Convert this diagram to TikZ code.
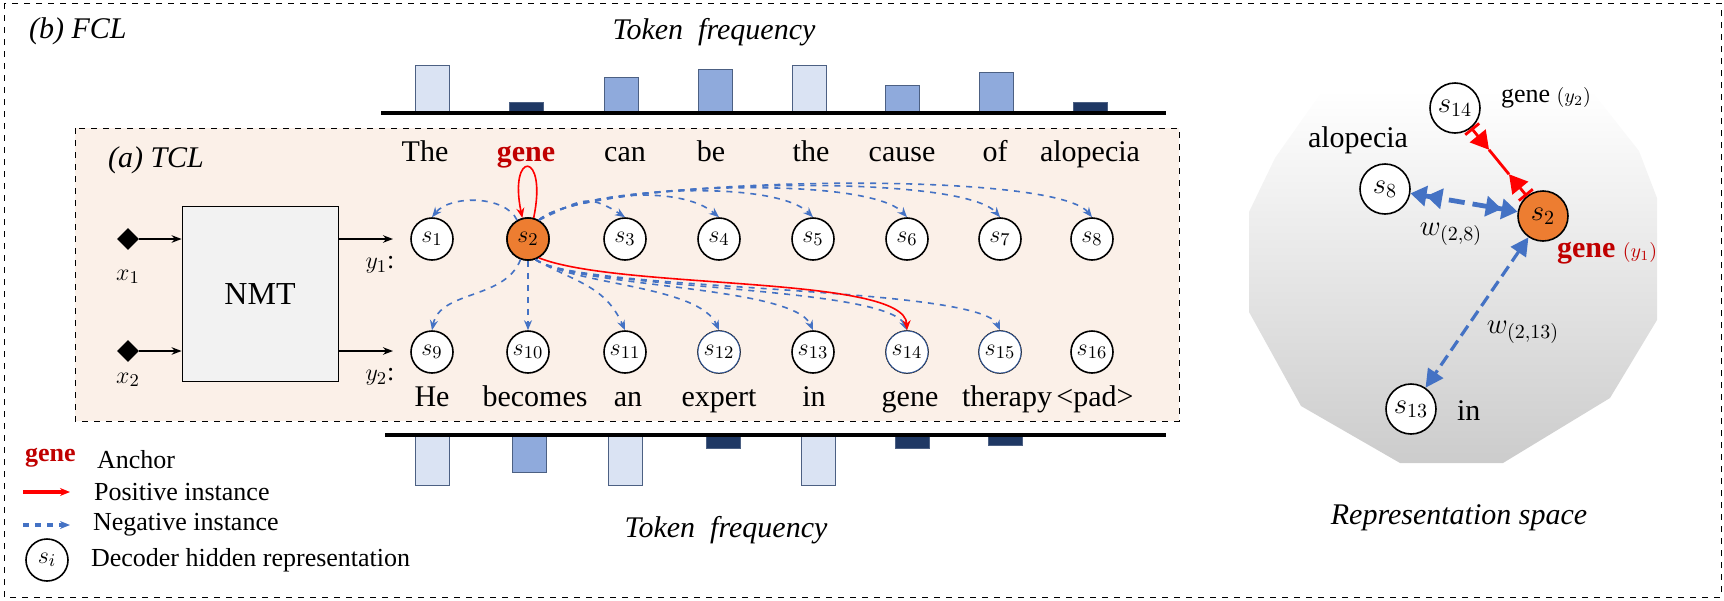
\documentclass[tikz,border=0pt]{standalone}
\usepackage{fontspec}
\setmainfont{Liberation Serif}
\usetikzlibrary{arrows.meta,shapes.geometric,calc}
\definecolor{lb}{HTML}{DAE3F3}
\definecolor{mb}{HTML}{8FAADC}
\definecolor{db}{HTML}{1F3864}
\definecolor{bl}{HTML}{4472C4}
\definecolor{org}{HTML}{ED7D31}
\definecolor{anc}{HTML}{C00000}
\definecolor{tclbg}{HTML}{FBF0E8}
\begin{document}
\begin{tikzpicture}[x=0.5pt,y=-0.5pt,
  tok/.style={circle,draw,thick,fill=white,minimum size=21pt,inner sep=0pt,font=\fontsize{13}{13}\selectfont},
  rtok/.style={tok,minimum size=25pt,font=\fontsize{14}{14}\selectfont},
  word/.style={font=\fontsize{15}{17}\selectfont,anchor=base},
  lgd/.style={anchor=west,font=\fontsize{13}{15}\selectfont},
  negi/.style={draw=bl,thick,dashed,-{Stealth[length=5pt,width=4pt]}},
  posi/.style={draw=red,thick,-{Stealth[length=5pt,width=4pt]}},
  bar/.style={draw=db!80,line width=0.4pt},
  ital/.style={font=\itshape\fontsize{15}{17}\selectfont}]
\useasboundingbox (0,0) rectangle (1724,600);
\draw[dashed] (4,3) rectangle (1721,597);
\node[ital,anchor=west] (bfcl) at (22,31) {(b) FCL};
\node[ital] (tf1) at (714,32) {Token\ \ frequency};
\node[ital] (tf2) at (726,530) {Token\ \ frequency};
% top bars
\foreach \x/\t/\c in {432/65/lb,526/102/db,621/77/mb,715/69/mb,809/65/lb,902/85/mb,996/72/mb,1090/102/db}
  \fill[\c,bar] (\x-17,113) rectangle (\x+17,\t);
\draw[line width=1.8pt] (381,113) -- (1166,113);
% bottom bars
\foreach \x/\t/\c in {432/485/lb,529/472/mb,625/485/lb,723/448/db,818/485/lb,912/448/db,1005/445/db}
  \fill[\c,bar] (\x-17,435) rectangle (\x+17,\t);
\draw[line width=1.8pt] (385,435) -- (1166,435);
% TCL box
\draw[dashed,fill=tclbg] (75,128) rectangle (1179,421);
\node[ital] (atcl) at (156,160) {(a) TCL};
% words
\foreach \x/\w [count=\i] in {425/The,625/can,711/be,811/the,902/cause,995/of,1090/alopecia}
  \node[word] (tw\i) at (\x,161) {\w};
\node[word,text=anc,font=\bfseries\fontsize{15}{17}\selectfont] (gene) at (526,161) {gene};
\foreach \x/\w [count=\i] in {432/He,535/becomes,628/an,719/expert,814/in,910/gene,1007/therapy,1095/<pad>}
  \node[word] (bw\i) at (\x,406) {\w};
% nodes
\foreach \x [count=\i] in {432,528,625,719,813,907,1000,1092}
  \node[tok] (s\i) at (\x,239) {$s_{\i}$};
\node[tok,fill=org] at (s2) {$s_{2}$};
\foreach \x [count=\i from 9] in {432,528,625,719,813,907,1000,1092}
  \node[tok] (s\i) at (\x,352) {$s_{\i}$};
\foreach \i in {12,14,15} \node[tok,draw=bl!80!black,thin] at (s\i) {$s_{\i}$};
% NMT
\node[draw,fill=black!5,minimum width=78pt,minimum height=87.5pt,font=\fontsize{16}{18}\selectfont] (nmt) at (260,294) {NMT};
\node[diamond,fill=black,inner sep=0pt,minimum size=11pt] (x1) at (128,239) {};
\node[diamond,fill=black,inner sep=0pt,minimum size=11pt] (x2) at (128,351) {};
\node[font=\fontsize{13}{13}\selectfont] (x1l) at (128,277) {$x_1$};
\node[font=\fontsize{13}{13}\selectfont] (x2l) at (128,380) {$x_2$};
\draw[thick,-{Stealth[length=5pt]}] (x1) -- (x1 -| nmt.west);
\draw[thick,-{Stealth[length=5pt]}] (x2) -- (x2 -| nmt.west);
\coordinate (y1e) at (393,239);
\coordinate (y2e) at (393,351);
\draw[thick,-{Stealth[length=5pt]}] (y1e -| nmt.east) -- (y1e);
\draw[thick,-{Stealth[length=5pt]}] (y2e -| nmt.east) -- (y2e);
\node[font=\fontsize{13}{13}\selectfont] (y1l) at (380,265) {$y_1$:};
\node[font=\fontsize{13}{13}\selectfont] (y2l) at (380,377) {$y_2$:};
% arcs
\draw[posi] (s2.75) .. controls (548,150) and (508,150) .. (s2.105);
\draw[negi] (s2.120) .. controls (505,195) and (450,195) .. (s1.90);
\foreach \i/\cy in {3/192,4/184,5/178,6/174,7/171,8/168}
  \draw[negi] (s2.60) .. controls ($(s2.60)+(40,\cy-210)$) and ($(s\i.90)+(-40,\cy-218)$) .. (s\i.90);
\draw[negi] (s2.250) .. controls (505,300) and (440,290) .. (s9.90);
\draw[negi] (s2.270) -- (s10.90);
\foreach \i/\cy in {11/285,12/288,13/290,14/292,15/294}
  \draw[negi] (s2.290) .. controls ($(s2.290)+(40,\cy-262)$) and ($(s\i.90)+(-20,-45)$) .. (s\i.90);
\draw[posi] (s2.300) .. controls (620,290) and (905,275) .. (s14.90);
% legend
\node[anchor=west,text=anc,font=\bfseries\fontsize{13}{15}\selectfont] (lg) at (18,458) {gene};
\node[lgd] (la) at (90,460) {Anchor};
\coordinate (p1) at (23,492); \coordinate (p2) at (70,492);
\draw[posi,line width=1.6pt] (p1) -- (p2);
\node[lgd] (lp) at (87,492) {Positive instance};
\coordinate (n1) at (23,525); \coordinate (n2) at (70,525);
\draw[negi,line width=1.6pt] (n1) -- (n2);
\node[lgd] (ln) at (86,525) {Negative instance};
\node[tok] (si) at (47,560) {$s_i$};
\node[lgd] (ld) at (84,560) {Decoder hidden representation};
% representation space
\shade[top color=white,bottom color=black!20] (1323,90) -- (1591,90) -- (1639,151) -- (1657,198) -- (1657,320) -- (1610,398) -- (1503,463) -- (1400,463) -- (1301,406) -- (1249,312) -- (1249,212) -- (1275,158) -- cycle;
\node[ital] (rsl) at (1459,518) {Representation space};
\node[rtok] (r14) at (1455,108) {$s_{14}$};
\node[rtok] (r8) at (1385,189) {$s_{8}$};
\node[rtok,fill=org] (r2) at (1543,216) {$s_{2}$};
\node[rtok] (r13) at (1411,409) {$s_{13}$};
\node[lgd] (g2) at (1494,98) {gene {\fontsize{10}{10}\selectfont$(y_2)$}};
\node[font=\fontsize{15}{17}\selectfont] (al) at (1358,140) {alopecia};
\node[anchor=west,text=anc,font=\bfseries\fontsize{15}{17}\selectfont] (g1) at (1550,253) {gene {\normalfont\fontsize{10}{10}\selectfont$(y_1)$}};
\node[lgd,font=\fontsize{15}{17}\selectfont] (inl) at (1450,411) {in};
\node[font=\fontsize{14}{14}\selectfont] (w28) at (1451,234) {$w_{(2,8)}$};
\node[font=\fontsize{14}{14}\selectfont] (w213) at (1523,332) {$w_{(2,13)}$};
\path (r14) -- (r2) coordinate[pos=0.32] (m1) coordinate[pos=0.68] (m2);
\draw[red,line width=1.4pt] (m1) -- (m2);
\draw[red,line width=1.4pt,{Bar[width=9pt]}-{Triangle[length=9pt,width=10pt]}] (r14) -- (m1);
\draw[red,line width=1.4pt,{Bar[width=9pt]}-{Triangle[length=9pt,width=10pt]}] (r2) -- (m2);
\draw[bl,line width=2.4pt,dash pattern=on 8pt off 4pt,{Triangle[length=8pt,width=10pt]Triangle[length=8pt,width=10pt]}-{Triangle[length=8pt,width=10pt]Triangle[length=8pt,width=10pt]}] (r8) -- (r2);
\draw[bl,line width=1.6pt,dash pattern=on 6pt off 3pt,{Triangle[length=9pt,width=9pt]}-{Triangle[length=9pt,width=9pt]}] (r2) -- (r13);
\end{tikzpicture}
\end{document}
